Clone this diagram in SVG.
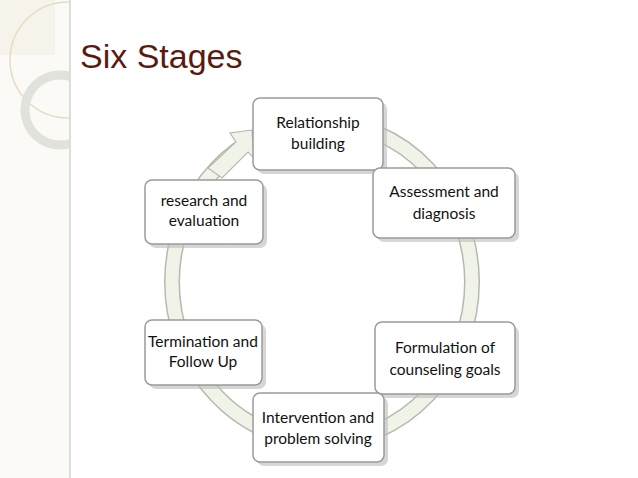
<svg xmlns="http://www.w3.org/2000/svg" width="638" height="478" viewBox="0 0 638 478">
<defs>
<style>
.box{fill:#fff;stroke:#9a9a9a;stroke-width:1.5}
.sh{fill:#bbb;opacity:.6}
.t{font-family:Lato,"Open Sans","DejaVu Sans",sans-serif;font-size:15.5px;fill:#111;text-anchor:middle}
</style>
<clipPath id="lc"><rect x="0" y="0" width="70" height="478"/></clipPath>
</defs>
<rect width="638" height="478" fill="#fff"/>
<g id="decor">
<rect x="0" y="0" width="70" height="478" fill="#fbfaf6"/>
<g clip-path="url(#lc)">
<rect x="0" y="0" width="55" height="55" fill="#f6f3ea"/>
<circle cx="68" cy="60" r="58" fill="none" stroke="#e6dcc0" stroke-width="1.5"/>
<circle cx="60" cy="110" r="35" fill="none" stroke="#e2e2dc" stroke-width="9"/>
</g>
<line x1="70" y1="0" x2="70" y2="478" stroke="#ddd" stroke-width="2"/>
</g>
<text x="80" y="68" font-family="Liberation Sans,Arial,sans-serif" font-size="34" fill="#5a1a10">Six Stages</text>
<g id="connectors">
<ellipse cx="322" cy="282" rx="150" ry="160" fill="none" stroke="#b8b8b0" stroke-width="16"/>
<ellipse cx="322" cy="282" rx="150" ry="160" fill="none" stroke="#f0f4e8" stroke-width="13"/>
<polygon points="252,130 230,133 236,142 208,168 222,178 248,152 254,158" fill="#f0f4e8" stroke="#b8b8b0" stroke-width="1.2"/>
</g>
<g id="n1"><rect class="sh" x="257" y="102" width="130" height="72" rx="7"/><rect class="box" x="253" y="98" width="130" height="72" rx="7"/><text class="t" x="318" y="128">Relationship</text><text class="t" x="318" y="149">building</text></g>
<g id="n2"><rect class="sh" x="377" y="172" width="142" height="70" rx="7"/><rect class="box" x="373" y="168" width="142" height="70" rx="7"/><text class="t" x="444" y="197">Assessment and</text><text class="t" x="444" y="219">diagnosis</text></g>
<g id="n3"><rect class="sh" x="379" y="326" width="140" height="72" rx="7"/><rect class="box" x="375" y="322" width="140" height="72" rx="7"/><text class="t" x="445" y="353">Formulation of</text><text class="t" x="445" y="375">counseling goals</text></g>
<g id="n4"><rect class="sh" x="257" y="397" width="131" height="69" rx="7"/><rect class="box" x="253" y="393" width="131" height="69" rx="7"/><text class="t" x="318" y="423">Intervention and</text><text class="t" x="318" y="444">problem solving</text></g>
<g id="n5"><rect class="sh" x="149" y="324" width="117" height="65" rx="7"/><rect class="box" x="145" y="320" width="117" height="65" rx="7"/><text class="t" x="203" y="347">Termination and</text><text class="t" x="203" y="367">Follow Up</text></g>
<g id="n6"><rect class="sh" x="149" y="184" width="118" height="64" rx="7"/><rect class="box" x="145" y="180" width="118" height="64" rx="7"/><text class="t" x="204" y="206">research and</text><text class="t" x="204" y="226">evaluation</text></g>
</svg>
